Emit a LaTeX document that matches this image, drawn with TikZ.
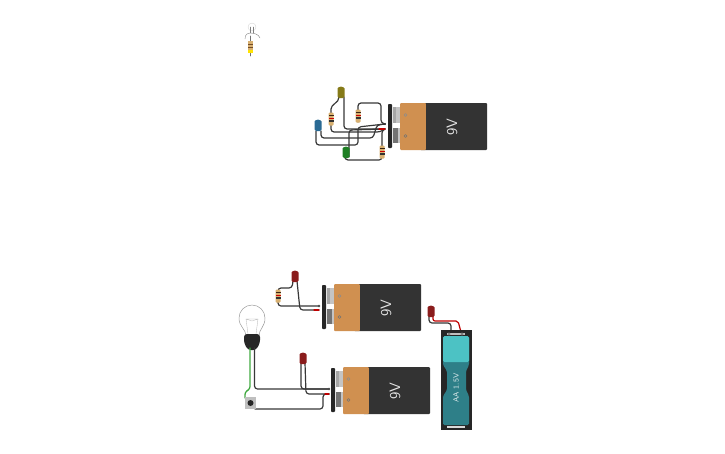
\documentclass[tikz,border=0pt]{standalone}
\usepackage{xcolor}
\usepackage{tikz}
\usetikzlibrary{calc}
\definecolor{cellorange}{HTML}{D09050}
\definecolor{celldark}{HTML}{333333}
\definecolor{snapgrey}{HTML}{C4C4C4}
\definecolor{ledred}{HTML}{8A1C1C}
\definecolor{ledolive}{HTML}{857A18}
\definecolor{ledblue}{HTML}{2A6A94}
\definecolor{ledgreen}{HTML}{1F7F24}
\definecolor{restan}{HTML}{D8B070}
\definecolor{aalight}{HTML}{4CC2C4}
\definecolor{aadark}{HTML}{2E7F88}
\tikzset{
  wire/.style={line width=1.2pt,color=black!78,rounded corners=3pt},
  redwire/.style={line width=1.2pt,color=red!75!black,rounded corners=2pt},
  greenwire/.style={line width=1.3pt,color=green!55!black!75,rounded corners=2.5pt},
  pics/ninevolt/.style={code={
    \fill [snapgrey] (-7,4) rectangle (0,20);
    \fill [snapgrey] (-7,25) rectangle (0,40);
    \fill [black!55] (-7,25) rectangle (-2.5,40);
    \fill [black!35] (-7,4) rectangle (-4,20);
    \fill [black!85,rounded corners=0.8pt] (-12,1) rectangle (-8,45);
    \fill [celldark,rounded corners=1pt] (20,0) rectangle (87,47);
    \fill [cellorange,rounded corners=1pt] (0,0) rectangle (26,47);
    \fill [celldark] (26,0) rectangle (30,47);
    \draw [line width=0.4pt,color=black!45] (5.5,12) circle (1.5);
    \draw [line width=0.4pt,color=black!55] (5.5,33) circle (1.5);
    \node [text=white!90!black,font=\sffamily\fontsize{15}{16}\selectfont,rotate=90,inner sep=0pt] (#1) at (52,24) {9V};
  }},
  pics/led/.style={code={
    \fill [#1,rounded corners=1.5pt] (-3.5,6) -- (-3.5,-2) arc (180:360:3.5) -- (3.5,6) -- cycle;
  }},
  pics/resistor/.style={code={
    \fill [restan,rounded corners=1pt] (-2.5,-6.5) rectangle (2.5,6.5);
    \fill [black!70!brown] (-2.5,-4) rectangle (2.5,-2.8);
    \fill [red!80!black] (-2.5,-1.2) rectangle (2.5,0);
    \fill [black!80] (-2.5,1.4) rectangle (2.5,2.6);
  }},
}
\begin{document}
\begin{tikzpicture}[line cap=round,line join=round,x=1pt,y=-1pt]
  \useasboundingbox (0,0) rectangle (725,453);
  % small part at the top
  \draw [line width=0.3pt,color=black!20] (252,27) circle (4);
  \coordinate (topa) at (250,36);
  \coordinate (topb) at (250,56);
  \draw [line width=0.6pt,color=black!55] (topa) -- (topb);
  \draw [line width=0.4pt,color=black!50] (245,39) .. controls (245,34) and (248,33) .. (250,33) .. controls (253,33) and (259,34) .. (260,38);
  \draw [line width=0.4pt,color=black!50] (250,33) -- (250,27) (253,33) -- (253,27);
  \fill [restan] (248,41) rectangle (252.5,53);
  \fill [black!40!brown] (248,43.5) rectangle (252.5,45);
  \fill [black!40!brown] (248,46.5) rectangle (252.5,48);
  \fill [yellow!85!orange] (248,50) rectangle (252.5,53);

  % first battery
  \pic at (400,103) {ninevolt=cella};
  \coordinate (pina) at (385,124);
  \coordinate (pinb) at (385,129);
  \coordinate (oliveb) at (344,97);
  \coordinate (blueb) at (321,131);
  \coordinate (greenb) at (349,157);
  \coordinate (greena) at (345,158);
  \draw [wire] (339,97) .. controls (339,103) and (331,104) .. (331,112) -- (331,132) -- (380,132) -- (pinb);
  \draw [wire] (oliveb) -- (344,129) -- (pinb);
  \draw [wire] (358,122) -- (358,103) -- (381,103) -- (381,123) -- (pina);
  \draw [wire] (316,131) -- (316,145) -- (358,145) -- (358,127) -- (pina);
  \draw [wire] (blueb) -- (321,138) -- (373,138) -- (377,125) -- (pina);
  \draw [wire] (greenb) -- (349,130) -- (pinb);
  \draw [wire] (greena) -- (345,160) -- (382,160) -- (382,130) -- (pinb);
  \draw [redwire] (379,129) -- (pinb);
  \fill [black!80] (pina) circle (1.2);
  \pic at (341,92) {led=ledolive};
  \pic at (318,125) {led=ledblue};
  \pic at (346,152) {led=ledgreen};
  \pic at (331,119) {resistor};
  \pic at (358,116) {resistor};
  \pic at (382,152) {resistor};

  % second battery
  \pic at (334,284) {ninevolt=cellb};
  \coordinate (pinc) at (319,306);
  \coordinate (pind) at (319,310);
  \draw [wire] (293,281) -- (292,288) -- (278,288) -- (278,306) -- (pinc);
  \draw [wire] (297,281) -- (300,310) -- (pind);
  \draw [redwire] (314,310) -- (pind);
  \fill [black!70] (pinc) circle (1.3);
  \pic at (295,276) {led=ledred};
  \pic at (278,296) {resistor};

  % lamp and switch on the third battery
  \pic at (343,367) {ninevolt=cellc};
  \coordinate (pine) at (329,389);
  \coordinate (pinf) at (329,394);
  \coordinate (lampa) at (250,348);
  \coordinate (lampb) at (254.5,348);
  \coordinate (pusha) at (245,398);
  \coordinate (pushb) at (255,409);
  \draw [line width=0.5pt,color=black!40,fill=white] (246,336) .. controls (246,329) and (239,327) .. (239,318) arc (180:360:13) .. controls (265,327) and (259,329) .. (259,336) -- cycle;
  \draw [line width=0.3pt,color=black!30] (248,334) -- (246,319) -- (258,319) -- (256,334) (246,319) -- (252,321) -- (258,319);
  \fill [black!85,rounded corners=3pt] (244,334) -- (260,334) -- (260,343) -- (256,350) -- (248,350) -- (244,343) -- cycle;
  \draw [greenwire] (lampa) -- (250,389) -- (245,392) -- (pusha);
  \draw [wire] (lampb) -- (254.5,389) -- (pine);
  \draw [wire] (pushb) -- (323,409) -- (323,394) -- (pinf);
  \draw [wire] (301,362) -- (301,389) -- (pine);
  \draw [wire] (305,363) -- (306,394) -- (pinf);
  \draw [redwire] (325,394) -- (pinf);
  \fill [black!70] (pine) circle (1.3);
  \pic at (303,358) {led=ledred};
  \fill [black!25] (245,397) rectangle (256,409);
  \fill [black!85] (250.5,403) circle (3);

  % cell holder with its lamp
  \coordinate (ping) at (451,332);
  \coordinate (pinh) at (461,332);
  \draw [wire] (429,316) -- (429,323) -- (451,323) -- (ping);
  \draw [redwire] (433,316) -- (433,321) -- (458,321) -- (pinh);
  \pic at (431,311) {led=ledred};
  \fill [black!85] (441,330) rectangle (472,430);
  \fill [aadark,rounded corners=1.5pt] (443,336) -- (469,336) -- (469,365) -- (466,371) -- (466,390) -- (469,396) -- (469,425) -- (443,425) -- (443,396) -- (447,390) -- (447,371) -- (443,365) -- cycle;
  \fill [aalight,rounded corners=1.5pt] (443,336) rectangle (469,362);
  \fill [black!25] (447,333) rectangle (465,335);
  \fill [black!50] (449,334) circle (1.6) (462,334) circle (1.6);
  \fill [black!15] (447,426) rectangle (465,427.5);
  \node [text=white!85!aadark,font=\sffamily\fontsize{7.5}{8}\selectfont,rotate=90,inner sep=0pt] (aalabel) at (456,388) {AA 1.5V};
\end{tikzpicture}
\end{document}
